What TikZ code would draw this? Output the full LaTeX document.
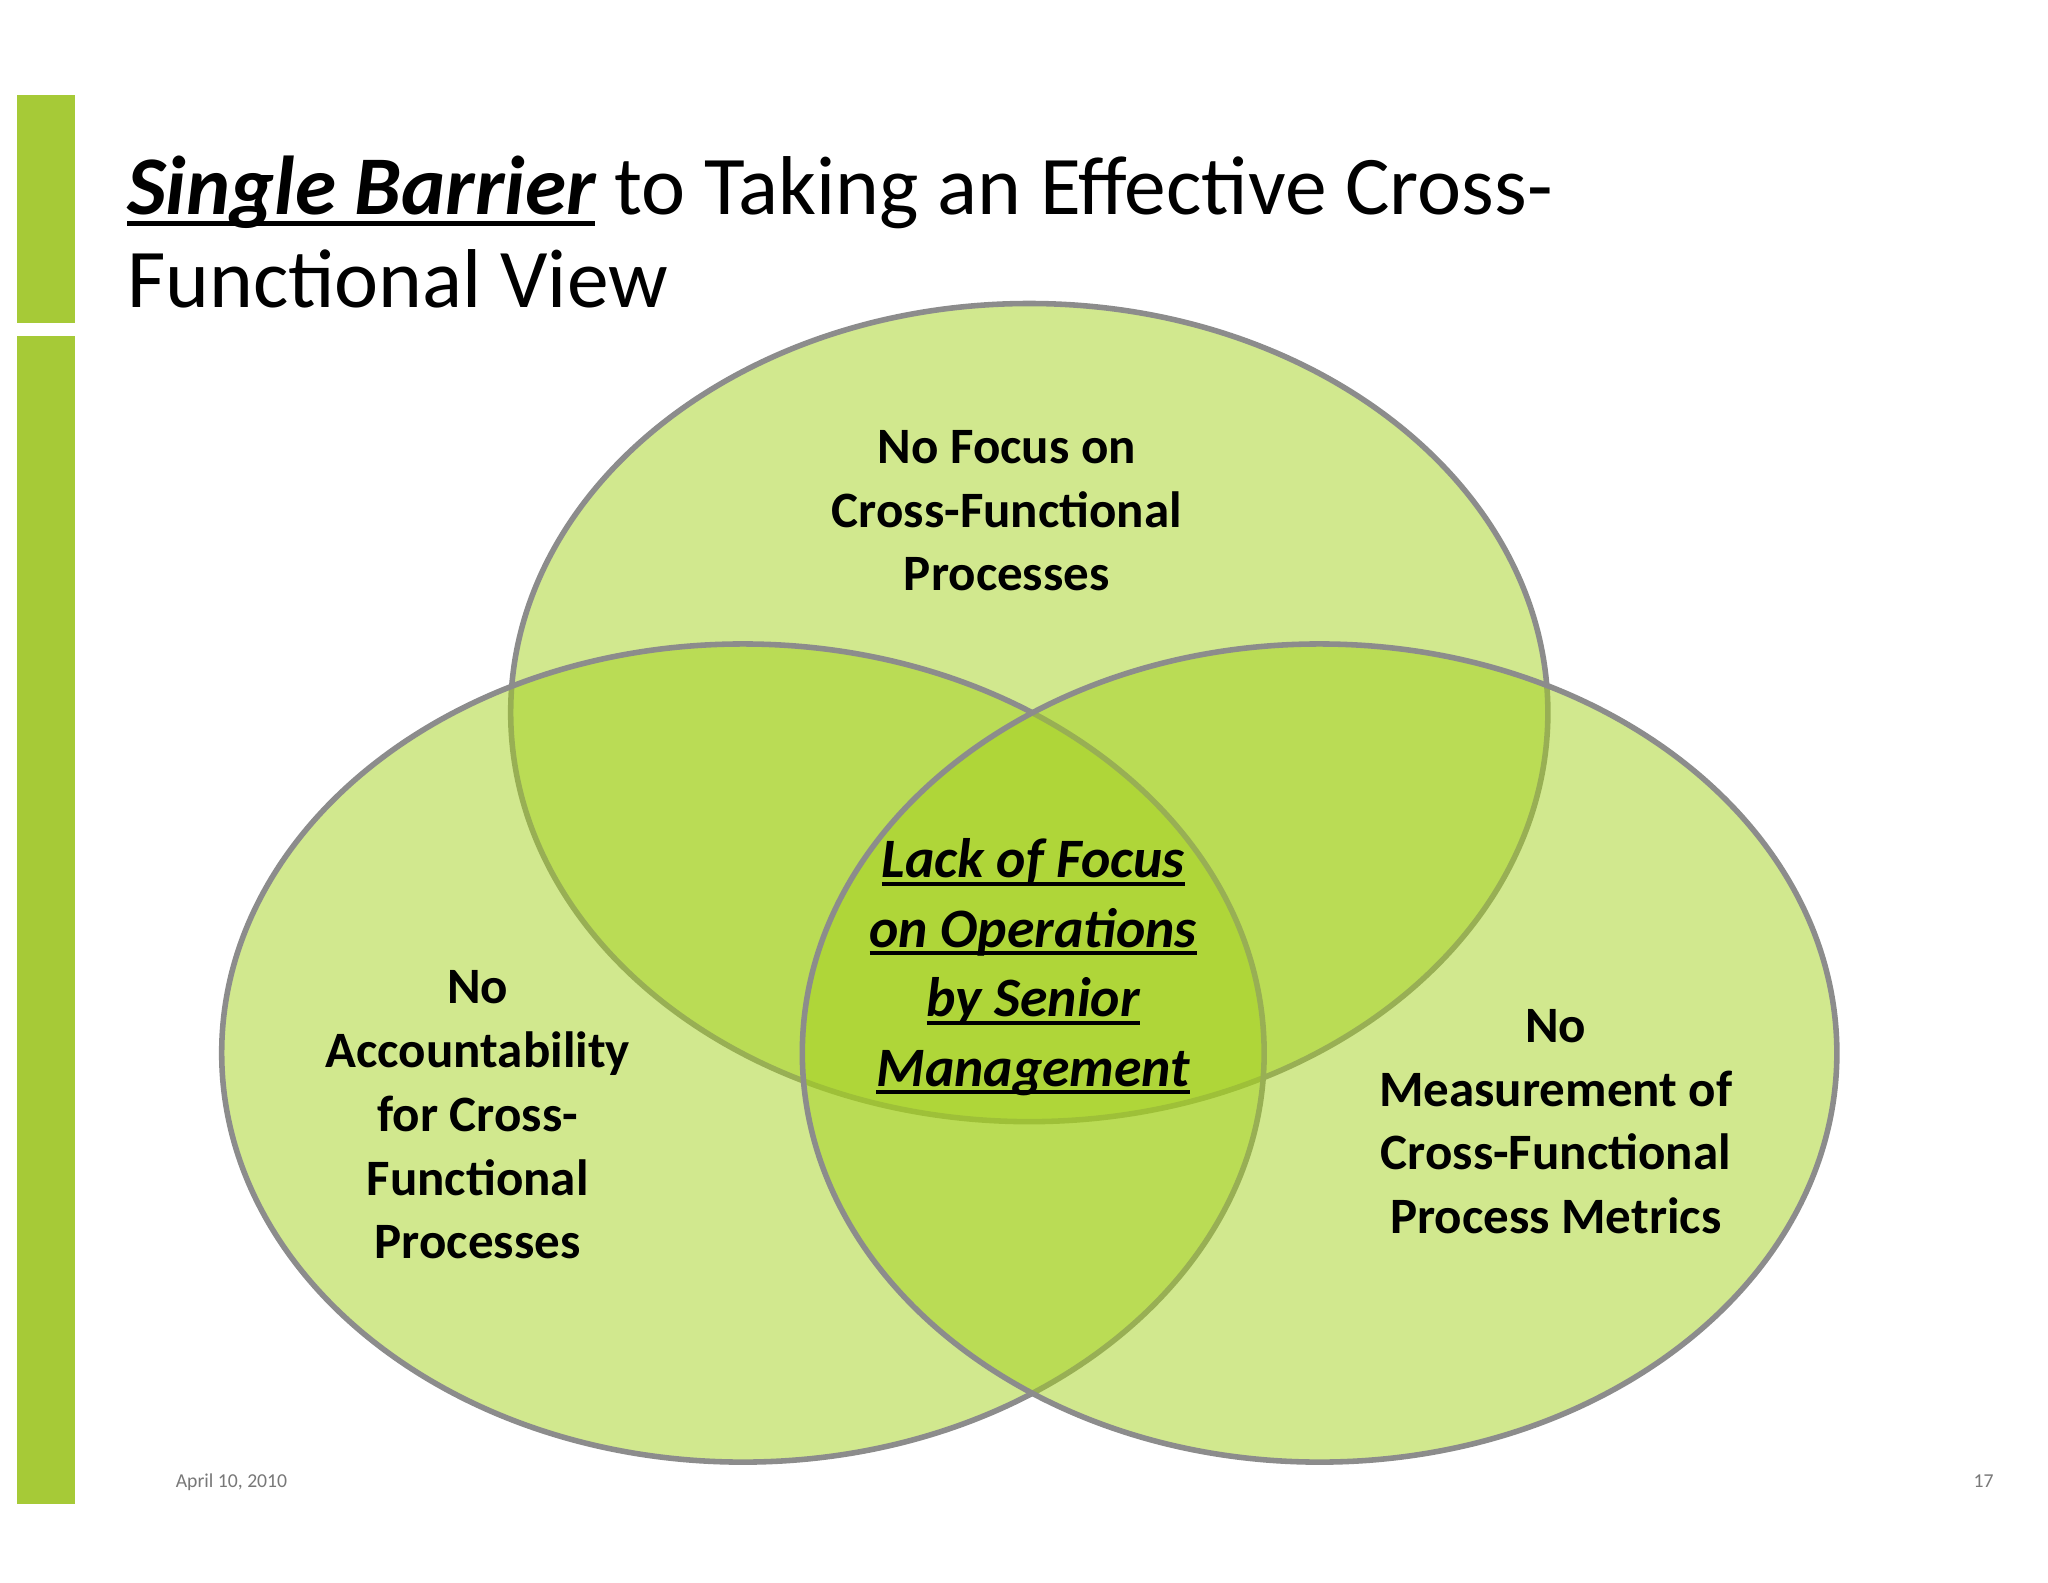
\documentclass[tikz,border=0pt]{standalone}
\usepackage{fontspec}
\setmainfont{Carlito}
\definecolor{barg}{RGB}{166,202,55}
\definecolor{vfill}{RGB}{165,210,30}
\definecolor{vline}{RGB}{140,140,140}
\definecolor{foot}{RGB}{120,120,120}
\newcommand{\ul}[1]{\setbox0\hbox{#1}\rlap{\rule[-0.14em]{\wd0}{0.07em}}\box0}
\tikzset{
  venn/.style={draw=vline,line width=2.4pt,fill=vfill,fill opacity=0.5},
  lab/.style={align=center,font=\fontsize{22}{27.5}\selectfont\bfseries},
  clab/.style={align=center,font=\fontsize{24}{30}\selectfont\bfseries\itshape},
  ft/.style={font=\fontsize{8.5}{10}\selectfont,text=foot}
}
\begin{document}
\begin{tikzpicture}[x=0.02cm,y=-0.02cm]
\useasboundingbox (0,0) rectangle (1552,1199);
\fill[white] (0,0) rectangle (1552,1199);
\fill[barg] (13,72) rectangle (57,245);
\fill[barg] (13,255) rectangle (57,1140);
\node[anchor=base west,align=left,inner sep=0pt,font=\fontsize{36}{40}\selectfont] (title) at (96,233)
 {\textbf{\textit{\ul{Single Barrier}}} to Taking an Effective Cross-\\Functional View};
\path[venn] (780,540) ellipse [x radius=393,y radius=310];
\path[venn] (563,798) ellipse [x radius=395,y radius=310];
\path[venn] (1000,798) ellipse [x radius=392,y radius=310];
\node[lab] (top) at (763,387) {No Focus on\\Cross-Functional\\Processes};
\node[lab] (left) at (362,845) {No\\Accountability\\for Cross-\\Functional\\Processes};
\node[lab] (right) at (1179,850) {No\\Measurement of\\Cross-Functional\\Process Metrics};
\node[clab] (ctr) at (783,733) {\ul{Lack of Focus}\\\ul{on Operations}\\\ul{by Senior}\\\ul{Management}};
\node[ft,anchor=base west] (date) at (127,1127) {April 10, 2010};
\node[ft,anchor=base east] (pg) at (1517,1127) {17};
\end{tikzpicture}
\end{document}
